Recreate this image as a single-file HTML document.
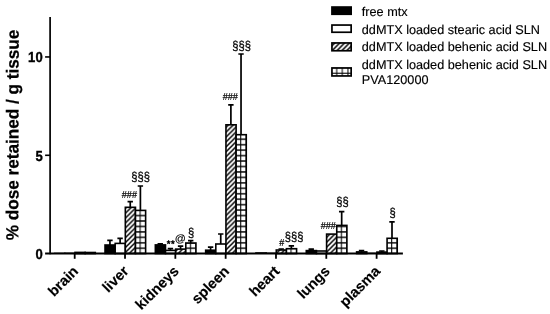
<!DOCTYPE html>
<html><head><meta charset="utf-8"><title>chart</title>
<style>html,body{margin:0;padding:0;background:#fff}svg{display:block}text{font-family:"Liberation Sans",Arial,sans-serif;fill:#000;text-rendering:geometricPrecision}</style></head><body>
<svg width="550" height="314" viewBox="0 0 550 314">
<defs>
<pattern id="hatch" patternUnits="userSpaceOnUse" width="4.9" height="4.9" x="0.5" y="0"><rect width="4.9" height="4.9" fill="#fff"/><path d="M-1,5.9 L5.9,-1 M-1,1 L1,-1 M3.9,5.9 L5.9,3.9" stroke="#000" stroke-width="1.5" fill="none"/></pattern>
<pattern id="grid" patternUnits="userSpaceOnUse" width="5.59" height="5.45" x="238.25" y="251.0"><rect width="5.59" height="5.45" fill="#fff"/><path d="M2.5,0 V5.45" stroke="#000" stroke-width="1.05" fill="none"/><path d="M0,2.7 H5.59" stroke="#000" stroke-width="1.4" fill="none"/></pattern>
<pattern id="grid2" patternUnits="userSpaceOnUse" width="5.6" height="5.45" x="333.9" y="68.3"><rect width="5.6" height="5.45" fill="#fff"/><path d="M2.8,0 V5.45" stroke="#000" stroke-width="1.0" fill="none"/><path d="M0,5.0 H5.6" stroke="#000" stroke-width="1.3" fill="none"/></pattern>
</defs>
<rect width="550" height="314" fill="#fff"/>
<rect x="53.90" y="252.70" width="11.75" height="0.85" fill="#000"/>
<rect x="64.05" y="252.60" width="11.75" height="0.95" fill="#000"/>
<rect x="75.00" y="252.40" width="10.15" height="1.15" fill="url(#hatch)" stroke="#000" stroke-width="1.6"/>
<rect x="85.15" y="252.50" width="10.15" height="1.05" fill="url(#grid)" stroke="#000" stroke-width="1.6"/>
<path d="M109.95,253.55 V240.40 M107.25,240.40 H112.65" stroke="#000" stroke-width="1.7" fill="none"/>
<rect x="105.02" y="245.00" width="10.15" height="8.55" fill="#000" stroke="#000" stroke-width="1.6"/>
<path d="M120.10,253.55 V238.30 M117.40,238.30 H122.80" stroke="#000" stroke-width="1.7" fill="none"/>
<rect x="115.17" y="243.40" width="10.15" height="10.15" fill="#fff" stroke="#000" stroke-width="1.6"/>
<path d="M130.25,253.55 V201.60 M127.55,201.60 H132.94" stroke="#000" stroke-width="1.7" fill="none"/>
<rect x="125.32" y="207.30" width="10.15" height="46.25" fill="url(#hatch)" stroke="#000" stroke-width="1.6"/>
<path d="M140.40,253.55 V186.00 M137.70,186.00 H143.09" stroke="#000" stroke-width="1.7" fill="none"/>
<rect x="135.47" y="210.40" width="10.15" height="43.15" fill="url(#grid)" stroke="#000" stroke-width="1.6"/>
<path d="M160.26,253.55 V243.80 M157.56,243.80 H162.96" stroke="#000" stroke-width="1.7" fill="none"/>
<rect x="155.34" y="244.90" width="10.15" height="8.65" fill="#000" stroke="#000" stroke-width="1.6"/>
<path d="M170.41,253.55 V248.60 M167.72,248.60 H173.11" stroke="#000" stroke-width="1.7" fill="none"/>
<rect x="165.49" y="250.40" width="10.15" height="3.15" fill="#fff" stroke="#000" stroke-width="1.6"/>
<path d="M180.56,253.55 V246.10 M177.87,246.10 H183.26" stroke="#000" stroke-width="1.7" fill="none"/>
<rect x="175.64" y="249.10" width="10.15" height="4.45" fill="url(#hatch)" stroke="#000" stroke-width="1.6"/>
<path d="M190.72,253.55 V240.70 M188.02,240.70 H193.41" stroke="#000" stroke-width="1.7" fill="none"/>
<rect x="185.79" y="243.00" width="10.15" height="10.55" fill="url(#grid)" stroke="#000" stroke-width="1.6"/>
<path d="M210.59,253.55 V247.10 M207.89,247.10 H213.28" stroke="#000" stroke-width="1.7" fill="none"/>
<rect x="205.66" y="250.20" width="10.15" height="3.35" fill="#000" stroke="#000" stroke-width="1.6"/>
<path d="M220.74,253.55 V234.00 M218.04,234.00 H223.44" stroke="#000" stroke-width="1.7" fill="none"/>
<rect x="215.81" y="244.00" width="10.15" height="9.55" fill="#fff" stroke="#000" stroke-width="1.6"/>
<path d="M230.89,253.55 V104.90 M228.19,104.90 H233.59" stroke="#000" stroke-width="1.7" fill="none"/>
<rect x="225.96" y="124.80" width="10.15" height="128.75" fill="url(#hatch)" stroke="#000" stroke-width="1.6"/>
<path d="M241.03,253.55 V54.00 M238.34,54.00 H243.73" stroke="#000" stroke-width="1.7" fill="none"/>
<rect x="236.11" y="134.70" width="10.15" height="118.85" fill="url(#grid)" stroke="#000" stroke-width="1.6"/>
<rect x="255.18" y="252.20" width="11.75" height="1.35" fill="#000"/>
<rect x="265.33" y="252.60" width="11.75" height="0.95" fill="#000"/>
<path d="M281.21,253.55 V249.00 M278.51,249.00 H283.91" stroke="#000" stroke-width="1.7" fill="none"/>
<rect x="276.28" y="250.00" width="10.15" height="3.55" fill="url(#hatch)" stroke="#000" stroke-width="1.6"/>
<path d="M291.36,253.55 V245.80 M288.66,245.80 H294.06" stroke="#000" stroke-width="1.7" fill="none"/>
<rect x="286.43" y="248.70" width="10.15" height="4.85" fill="url(#grid)" stroke="#000" stroke-width="1.6"/>
<path d="M311.23,253.55 V249.20 M308.53,249.20 H313.93" stroke="#000" stroke-width="1.7" fill="none"/>
<rect x="306.30" y="250.60" width="10.15" height="2.95" fill="#000" stroke="#000" stroke-width="1.6"/>
<rect x="316.45" y="251.00" width="10.15" height="2.55" fill="#fff" stroke="#000" stroke-width="1.6"/>
<rect x="326.60" y="234.10" width="10.15" height="19.45" fill="url(#hatch)" stroke="#000" stroke-width="1.6"/>
<path d="M341.68,253.55 V211.70 M338.98,211.70 H344.38" stroke="#000" stroke-width="1.7" fill="none"/>
<rect x="336.75" y="225.40" width="10.15" height="28.15" fill="url(#grid)" stroke="#000" stroke-width="1.6"/>
<path d="M361.55,253.55 V250.50 M358.85,250.50 H364.25" stroke="#000" stroke-width="1.7" fill="none"/>
<rect x="356.62" y="251.90" width="10.15" height="1.65" fill="#000" stroke="#000" stroke-width="1.6"/>
<rect x="365.97" y="252.70" width="11.75" height="0.85" fill="#000"/>
<path d="M381.85,253.55 V251.00 M379.15,251.00 H384.55" stroke="#000" stroke-width="1.7" fill="none"/>
<rect x="376.92" y="252.10" width="10.15" height="1.45" fill="url(#hatch)" stroke="#000" stroke-width="1.6"/>
<path d="M392.00,253.55 V221.80 M389.30,221.80 H394.69" stroke="#000" stroke-width="1.7" fill="none"/>
<rect x="387.07" y="238.30" width="10.15" height="15.25" fill="url(#grid)" stroke="#000" stroke-width="1.6"/>
<path d="M50.1,17.0 V254.35000000000002" stroke="#000" stroke-width="1.7"/>
<path d="M45.1,253.55 H402.9" stroke="#000" stroke-width="1.9"/>
<text transform="translate(42.65,258.75) scale(0.9,1)" font-size="14.5" font-weight="bold" text-anchor="end" stroke="#000" stroke-width="0.35">0</text>
<path d="M45.1,155.3 H50" stroke="#000" stroke-width="1.6"/>
<text transform="translate(42.65,160.50) scale(0.9,1)" font-size="14.5" font-weight="bold" text-anchor="end" stroke="#000" stroke-width="0.35">5</text>
<path d="M45.1,56.95 H50" stroke="#000" stroke-width="1.6"/>
<text transform="translate(42.65,62.15) scale(0.9,1)" font-size="14.5" font-weight="bold" text-anchor="end" stroke="#000" stroke-width="0.35">10</text>
<path d="M74.70,253.55 V258.8" stroke="#000" stroke-width="1.8"/>
<path d="M125.02,253.55 V258.8" stroke="#000" stroke-width="1.8"/>
<path d="M175.34,253.55 V258.8" stroke="#000" stroke-width="1.8"/>
<path d="M225.66,253.55 V258.8" stroke="#000" stroke-width="1.8"/>
<path d="M275.98,253.55 V258.8" stroke="#000" stroke-width="1.8"/>
<path d="M326.30,253.55 V258.8" stroke="#000" stroke-width="1.8"/>
<path d="M376.62,253.55 V258.8" stroke="#000" stroke-width="1.8"/>
<text transform="translate(79.15,272.1) rotate(-45)" font-size="14.6" font-weight="bold" text-anchor="end" stroke="#000" stroke-width="0.15">brain</text>
<text transform="translate(129.47,272.1) rotate(-45)" font-size="14.6" font-weight="bold" text-anchor="end" stroke="#000" stroke-width="0.15">liver</text>
<text transform="translate(179.79,272.1) rotate(-45)" font-size="14.6" font-weight="bold" text-anchor="end" stroke="#000" stroke-width="0.15">kidneys</text>
<text transform="translate(230.11,272.1) rotate(-45)" font-size="14.6" font-weight="bold" text-anchor="end" stroke="#000" stroke-width="0.15">spleen</text>
<text transform="translate(280.43,272.1) rotate(-45)" font-size="14.6" font-weight="bold" text-anchor="end" stroke="#000" stroke-width="0.15">heart</text>
<text transform="translate(330.75,272.1) rotate(-45)" font-size="14.6" font-weight="bold" text-anchor="end" stroke="#000" stroke-width="0.15">lungs</text>
<text transform="translate(381.07,272.1) rotate(-45)" font-size="14.6" font-weight="bold" text-anchor="end" stroke="#000" stroke-width="0.15">plasma</text>
<text transform="translate(18.5,135.0) rotate(-89.9) scale(0.986,1)" font-size="17.4" font-weight="bold" text-anchor="middle" stroke="#000" stroke-width="0.25">% dose retained / g tissue</text>
<text transform="translate(140.7,180.8) scale(1,1.14)" font-size="11.2" text-anchor="middle" stroke="#000" stroke-width="0.25">§§§</text>
<text transform="translate(129.4,197.7) scale(0.96,1.08)" font-size="9.5" text-anchor="middle" stroke="#000" stroke-width="0.2">###</text>
<text transform="translate(170.9,246.9)" font-size="9.5" text-anchor="middle" letter-spacing="0.5" stroke="#000" stroke-width="0.5">**</text>
<text transform="translate(180.35,241.8) scale(1.04,1)" font-size="10.5" text-anchor="middle" stroke="#000" stroke-width="0.15">@</text>
<text transform="translate(191.1,237.3) scale(1,1.14)" font-size="11.2" text-anchor="middle" stroke="#000" stroke-width="0.25">§</text>
<text transform="translate(241.6,49.8) scale(1,1.14)" font-size="11.2" text-anchor="middle" stroke="#000" stroke-width="0.25">§§§</text>
<text transform="translate(230.3,100.4) scale(0.96,1.08)" font-size="9.5" text-anchor="middle" stroke="#000" stroke-width="0.2">###</text>
<text transform="translate(281.7,246.0) scale(0.96,1.08)" font-size="9.5" text-anchor="middle" stroke="#000" stroke-width="0.2">#</text>
<text transform="translate(294.2,240.9) scale(1,1.14)" font-size="11.2" text-anchor="middle" stroke="#000" stroke-width="0.25">§§§</text>
<text transform="translate(328.3,228.8) scale(0.96,1.08)" font-size="9.5" text-anchor="middle" stroke="#000" stroke-width="0.2">###</text>
<text transform="translate(342.5,205.9) scale(1,1.14)" font-size="11.2" text-anchor="middle" stroke="#000" stroke-width="0.25">§§</text>
<text transform="translate(392.5,216.6) scale(1,1.14)" font-size="11.2" text-anchor="middle" stroke="#000" stroke-width="0.25">§</text>
<rect x="331.1" y="6.2" width="20.9" height="8.9" fill="#000"/>
<rect x="331.95" y="25.05" width="19.2" height="7.2" fill="#fff" stroke="#000" stroke-width="1.7"/>
<rect x="331.95" y="42.95" width="19.2" height="7.8" fill="url(#hatch)" stroke="#000" stroke-width="1.7"/>
<rect x="331.95" y="67.95" width="19.2" height="8.0" fill="url(#grid2)" stroke="#000" stroke-width="1.7"/>
<text x="361.8" y="15.55" font-size="12.68" stroke="#000" stroke-width="0.15">free mtx</text>
<text x="361.8" y="33.65" font-size="12.68" stroke="#000" stroke-width="0.15">ddMTX loaded stearic acid SLN</text>
<text x="361.8" y="51.15" font-size="12.68" stroke="#000" stroke-width="0.15">ddMTX loaded behenic acid SLN</text>
<text x="361.8" y="69.0" font-size="12.68" stroke="#000" stroke-width="0.15">ddMTX loaded behenic acid SLN</text>
<text x="361.8" y="84.0" font-size="12.68" stroke="#000" stroke-width="0.15">PVA120000</text>
</svg></body></html>
